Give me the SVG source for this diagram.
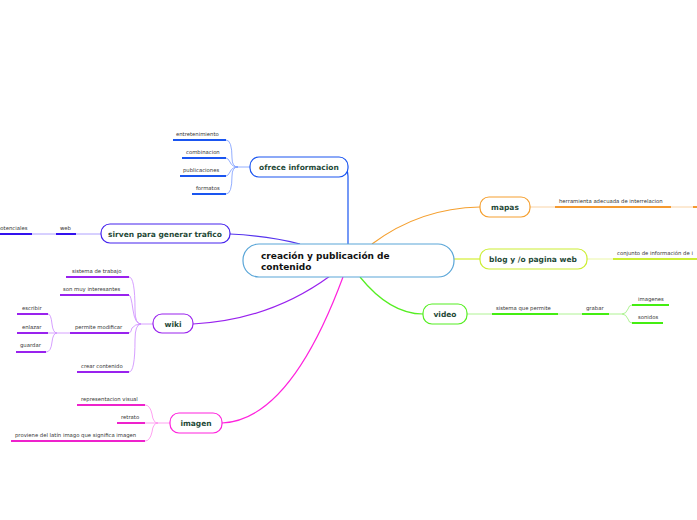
<svg xmlns="http://www.w3.org/2000/svg" width="697" height="520" viewBox="0 0 697 520">
<style>
.n{fill:#fff;stroke-width:1.2}
.nt{font-family:"DejaVu Sans",sans-serif;font-size:7.5px;font-weight:bold;fill:#1f4a38;text-anchor:middle}
.ct{font-family:"DejaVu Sans",sans-serif;font-size:5.3px;fill:#333}
.c{fill:none;stroke-width:1.2}
.u{fill:none;stroke-width:1.8}
.t{fill:none;stroke-width:0.8}
</style>
<rect width="697" height="520" fill="#fff"/>
<g id="connectors">
<path class="c" stroke="#1a55f0" d="M348,244 V176 Q348,167 340,167"/>
<path class="c" stroke="#5533ee" d="M230,234 Q270,236 300,244"/>
<path class="c" stroke="#9922ee" d="M193,324 Q270,320 330,276"/>
<path class="c" stroke="#ff22dd" d="M222,423 Q290,420 343,277"/>
<path class="c" stroke="#f5a030" d="M372,244 Q420,208 480,207"/>
<path class="c" stroke="#d4ee33" d="M454,259 H480"/>
<path class="c" stroke="#55ee22" d="M360,277 Q390,314 423,314"/>
<g stroke="#7799ff" class="t">
<path d="M250,167 H238 Q232,167 232,158 Q232,140 226,140"/>
<path d="M238,167 Q232,167 230,162 Q228,158 226,158"/>
<path d="M238,167 Q232,167 230,172 Q228,176 226,176"/>
<path d="M238,167 Q232,167 232,176 Q232,194 226,194"/>
</g>
<path class="t" stroke="#9988ff" d="M101,234 H76 M56,234 H32"/>
<g class="t" stroke="#cc88ff">
<path d="M153,324 H141 Q135,324 135,310 Q135,277 129,277"/>
<path d="M141,324 Q135,324 133,310 Q131,295 129,295"/>
<path d="M141,324 Q135,324 132,328 Q131,333 129,333"/>
<path d="M141,324 Q135,324 135,340 Q135,372 129,372"/>
<path d="M70,333 H57 Q53,333 52,324 Q51,314 48,314"/>
<path d="M57,333 H48"/>
<path d="M57,333 Q53,333 52,342 Q51,352 46,352"/>
</g>
<g class="t" stroke="#ff88ee">
<path d="M170,423 H158 Q153,423 152,414 Q150,405 145,405"/>
<path d="M158,423 H145"/>
<path d="M158,423 Q153,423 152,432 Q150,441 145,441"/>
</g>
<path class="t" stroke="#f8c890" d="M530,207 H555 M671,207 H697"/>
<path class="t" stroke="#e6f590" d="M587,259 H613"/>
<g class="t" stroke="#99f077">
<path d="M467,314 H492 M558,314 H582 M609,314 H622 Q626,314 628,309 Q629,305 632,305 M622,314 Q626,314 628,319 Q629,323 632,323"/>
</g>
</g>
<g id="underlines">
<g class="u" stroke="#1a55f0"><path d="M173,140 H226 M182,158 H226 M180,176 H226 M192,194 H226"/></g>
<g class="u" stroke="#3311ee"><path d="M56,234 H76 M0,234 H32"/></g>
<g class="u" stroke="#9922ee"><path d="M66,277 H129 M60,295 H129 M70,333 H129 M77,372 H129 M17,314 H48 M17,333 H48 M16,352 H46"/></g>
<g class="u" stroke="#ee22cc"><path d="M77,405 H145 M117,423 H145 M11,441 H145"/></g>
<path class="u" stroke="#f59a30" d="M555,207 H671 M693,207 H697"/>
<path class="u" stroke="#ccee33" d="M613,259 H697"/>
<g class="u" stroke="#44ee11"><path d="M492,314 H558 M582,314 H609 M632,305 H669 M632,323 H663"/></g>
</g>
<g id="central"><rect class="n" x="243" y="244" width="211" height="33" rx="16" stroke="#5aa6d8"/>
<text font-family="DejaVu Sans,sans-serif" font-size="9" font-weight="bold" fill="#111"><tspan x="261" y="259">creación y publicación de</tspan><tspan x="261" y="270">contenido</tspan></text></g>
<g id="ofrece"><rect class="n" x="250" y="157" width="98" height="20" rx="9" stroke="#1a55f0"/><text class="nt" x="299" y="170">ofrece informacion</text></g>
<g id="sirven"><rect class="n" x="101" y="224" width="129" height="19" rx="9" stroke="#4422ee"/><text class="nt" x="165" y="237">sirven para generar trafico</text></g>
<g id="wiki"><rect class="n" x="153" y="314" width="40" height="19" rx="9" stroke="#9922ee"/><text class="nt" x="173" y="327">wiki</text></g>
<g id="imagen"><rect class="n" x="170" y="413" width="52" height="20" rx="9" stroke="#ff22dd"/><text class="nt" x="196" y="426">imagen</text></g>
<g id="mapas"><rect class="n" x="480" y="197" width="50" height="20" rx="9" stroke="#f5a030"/><text class="nt" x="505" y="210">mapas</text></g>
<g id="blog"><rect class="n" x="480" y="249" width="107" height="20" rx="9" stroke="#ccee33"/><text class="nt" x="533" y="262">blog y /o pagina web</text></g>
<g id="video"><rect class="n" x="423" y="304" width="44" height="20" rx="9" stroke="#55ee22"/><text class="nt" x="445" y="317">video</text></g>
<g id="labels" class="ct">
<text x="176" y="136">entretenimiento</text>
<text x="186" y="154">combinacion</text>
<text x="183" y="172">publicaciones</text>
<text x="196" y="190">formatos</text>
<text x="60" y="230">web</text>
<text x="-3" y="230">potenciales</text>
<text x="72" y="273">sistema de trabajo</text>
<text x="63" y="291">son muy interesantes</text>
<text x="75" y="329">permite modificar</text>
<text x="81" y="368">crear contenido</text>
<text x="22" y="310">escribir</text>
<text x="22" y="329">enlazar</text>
<text x="20" y="347">guardar</text>
<text x="81" y="401">representacion visual</text>
<text x="121" y="419">retrato</text>
<text x="15" y="437">proviene del latín imago que significa imagen</text>
<text x="559" y="203">herramienta adecuada de interrelacion</text>
<text x="617" y="255">conjunto de información de i</text>
<text x="496" y="310">sistema que permite</text>
<text x="586" y="310">grabar</text>
<text x="638" y="301">imagenes</text>
<text x="638" y="319">sonidos</text>
</g>
</svg>
